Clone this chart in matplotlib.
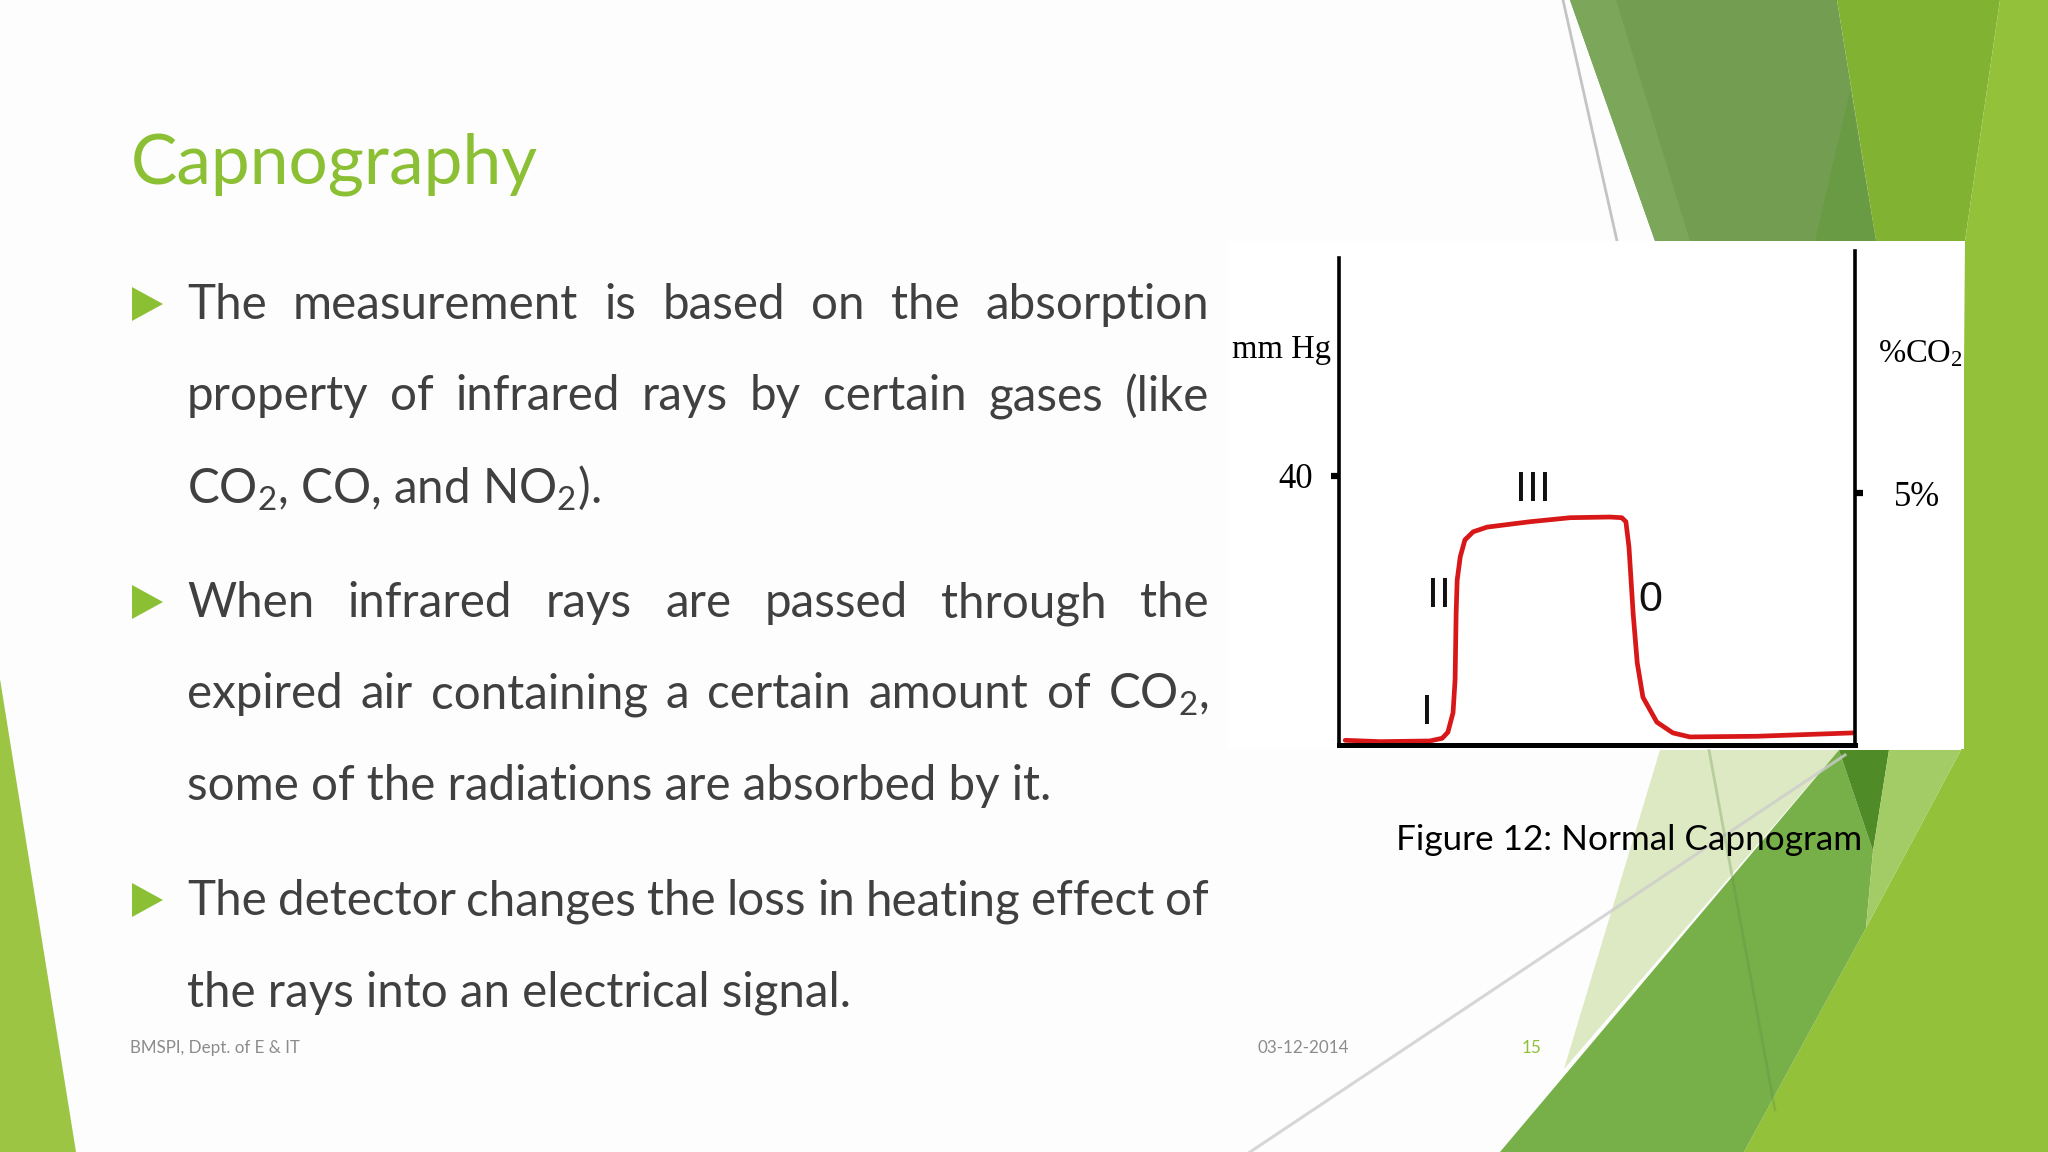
import matplotlib
matplotlib.use("Agg")
import matplotlib.pyplot as plt
from matplotlib.patches import Polygon, Rectangle

W, H = 2048, 1152

# ─── capnogram trace ─────────────────────────────────────────────────────────
# time as % of the plotted window, CO2 in mm Hg
time_pct = [1.2, 8.0, 17.6, 20.0, 21.1, 22.1, 22.5, 22.7, 22.9, 23.5, 24.4,
            26.0, 28.7, 37.0, 44.8, 52.5, 54.8, 55.6, 56.2, 57.0, 57.8, 58.9,
            61.6, 64.7, 68.0, 81.0, 99.6]
co2_mmhg = [0.7, 0.5, 0.6, 1.0, 1.9, 4.8, 9.7, 19.6, 24.5, 28.0, 30.5,
            31.7, 32.4, 33.2, 33.8, 33.9, 33.8, 33.2, 29.4, 19.6, 12.2, 7.1,
            3.4, 1.8, 1.2, 1.3, 1.8]

phase_names = ["I", "II", "III", "0"]
phase_time = [17.1, 19.4, 37.6, 60.3]
phase_level = [4.8, 22.2, 37.9, 21.6]

mmhg_ticks = [40]
mmhg_labels = ["40"]
pct_ticks = [5]
pct_labels = ["5%"]

# ─── slide text ──────────────────────────────────────────────────────────────
title = "Capnography"
bullets = [
    ["The measurement is based on the absorption",
     "property of infrared rays by certain gases (like",
     r"CO$\mathregular{_2}$, CO, and NO$\mathregular{_2}$)."],
    ["When infrared rays are passed through the",
     r"expired air containing a certain amount of CO$\mathregular{_2}$,",
     "some of the radiations are absorbed by it."],
    ["The detector changes the loss in heating effect of",
     "the rays into an electrical signal."],
]
caption = "Figure 12: Normal Capnogram"
footer_left = "BMSPI, Dept. of E & IT"
footer_date = "03-12-2014"
page_no = "15"

GREEN = "#8cc034"
TEXT = "#404040"
BODY_FONT = "Lato"
FIG_FONT = "Liberation Serif"

fig = plt.figure(figsize=(20.48, 11.52), dpi=100)
fig.patch.set_facecolor("#fdfdfd")
bg = fig.add_axes([0, 0, 1, 1])
bg.set_xlim(0, W)
bg.set_ylim(H, 0)
bg.axis("off")
r = fig.canvas.get_renderer()

# ─── decorative slide shapes ─────────────────────────────────────────────────
shapes = [
    ([(0, 679), (76, 1152), (0, 1152)], "#9cc543"),
    ([(1570, 0), (1837, 0), (1876, 241), (1655, 241)], "#739d51"),
    ([(1570, 0), (1616, 0), (1690, 241), (1655, 241)], "#7ca75b"),
    ([(1850, 91), (1876, 241), (1815, 241)], "#689b43"),
    ([(1837, 0), (2000, 0), (1965, 241), (1876, 241)], "#82b232"),
    ([(2000, 0), (2048, 0), (2048, 1152), (1744, 1152), (1866, 928),
      (1961, 750), (1965, 241)], "#93c13a"),
    ([(1660, 750), (1839, 750), (1564, 1069)], "#dde9c2"),
    ([(1839, 750), (1873, 851), (1866, 928), (1744, 1152), (1500, 1152)],
     "#77af48"),
    ([(1839, 750), (1889, 750), (1873, 851)], "#4f8b27"),
    ([(1889, 750), (1961, 750), (1866, 928), (1873, 851)], "#a3cc66"),
]
for pts, col in shapes:
    bg.add_patch(Polygon(pts, closed=True, facecolor=col, edgecolor="none",
                         zorder=1))

bg.plot([1563, 1617], [0, 241], color="#c4c4c4", lw=2.0, zorder=2)
bg.plot([1250, 1845], [1152, 755], color="#cdcdcd", lw=2.2, alpha=0.8, zorder=2)
bg.plot([1709, 1775], [750, 1110], color="#5f8f45", lw=2.0, alpha=0.3, zorder=2)

# white picture area behind the chart
bg.add_patch(Rectangle((1228, 241), 736, 508, facecolor="white",
                       edgecolor="none", zorder=3))


def fit_size(s, width, **kw):
    t = bg.text(0, 0, s, fontsize=20, **kw)
    w = t.get_window_extent(r).width
    t.remove()
    return 20 * width / w


# ─── title ───────────────────────────────────────────────────────────────────
ts = fit_size(title, 408, family=BODY_FONT)
bg.text(131, 183, title, fontsize=ts, family=BODY_FONT, color=GREEN,
        va="baseline", ha="left", zorder=4)

# ─── bullets ─────────────────────────────────────────────────────────────────
X0, X1 = 187, 1209
body_size = fit_size(bullets[1][2], 866, family=BODY_FONT)
line_gap = 91.5
para_starts = [319, 617, 915]


def draw_line(y, line, justify):
    kw = dict(fontsize=body_size, family=BODY_FONT, color=TEXT,
              va="baseline", ha="left", zorder=4)
    if not justify:
        bg.text(X0, y, line, **kw)
        return
    words = line.split(" ")
    txts = [bg.text(0, y, w, **kw) for w in words]
    widths = [t.get_window_extent(r).width for t in txts]
    gap = (X1 - X0 - sum(widths)) / (len(words) - 1)
    x = X0
    for t, w in zip(txts, widths):
        t.set_x(x)
        x += w + gap


for start, lines in zip(para_starts, bullets):
    bg.add_patch(Polygon([(132, start - 32), (132, start + 2), (163, start - 15)],
                         closed=True, facecolor=GREEN, edgecolor="none", zorder=4))
    for i, line in enumerate(lines):
        draw_line(start + i * line_gap, line, justify=(i < len(lines) - 1))

# ─── caption and footer ──────────────────────────────────────────────────────
cs = fit_size(caption, 466, family=BODY_FONT)
bg.text(1396, 850, caption, fontsize=cs, family=BODY_FONT, color="black",
        va="baseline", ha="left", zorder=4)

fs = fit_size(footer_left, 171, family=BODY_FONT)
bg.text(130, 1053, footer_left, fontsize=fs, family=BODY_FONT, color="#8c8c8c",
        va="baseline", ha="left", zorder=4)
bg.text(1258, 1053, footer_date, fontsize=fs, family=BODY_FONT, color="#8c8c8c",
        va="baseline", ha="left", zorder=4)
bg.text(1532, 1053, page_no, fontsize=fs, family=BODY_FONT, color=GREEN,
        va="baseline", ha="center", zorder=4)

# ─── capnogram ───────────────────────────────────────────────────────────────
MMHG_PX = 6.725          # pixels per mm Hg on the slide picture
ax = fig.add_axes([1339 / W, 1 - 745 / H, 516 / W, 487 / H])
ax.patch.set_alpha(0)
ax.plot(time_pct, co2_mmhg, color="#d81818", lw=3.4, solid_capstyle="round",
        solid_joinstyle="round")
ax.set_xlim(0, 100)
ax.set_ylim(0, 487 / MMHG_PX)
ax.set_xticks([])
for side in ["top", "right"]:
    ax.spines[side].set_visible(False)
ax.spines["left"].set_linewidth(2.6)
ax.spines["bottom"].set_linewidth(3.6)
ax.set_yticks(mmhg_ticks)
ax.set_yticklabels(mmhg_labels, family=FIG_FONT)
ax.tick_params(axis="y", direction="out", length=6, width=4.5, pad=13,
               labelsize=25)
ax.set_ylabel("mm Hg", rotation=0, family=FIG_FONT, fontsize=23.5,
              ha="center", va="center")
ax.yaxis.set_label_coords(-0.112, 0.811)

for name, tx, ty in zip(phase_names, phase_time, phase_level):
    ax.text(tx, ty, name, ha="center", va="center", family="Liberation Sans",
            fontsize=31, color="#111111")

# right-hand %CO2 scale (its axis line runs a little higher than the left one)
ax2 = fig.add_axes([1339 / W, 1 - 745 / H, 516 / W, 494 / H])
ax2.patch.set_alpha(0)
ax2.set_xlim(0, 100)
ax2.set_ylim(0, 494 / MMHG_PX * 5 / 37.4)
ax2.set_xticks([])
ax2.yaxis.tick_right()
ax2.yaxis.set_label_position("right")
for side in ["top", "left", "bottom"]:
    ax2.spines[side].set_visible(False)
ax2.spines["right"].set_linewidth(2.6)
ax2.set_yticks(pct_ticks)
ax2.set_yticklabels(pct_labels, family=FIG_FONT)
ax2.tick_params(axis="y", direction="out", length=6, width=4.5, pad=22,
                labelsize=25)
ax2.set_ylabel(r"%CO$\mathregular{_2}$", rotation=0, family=FIG_FONT,
               fontsize=23.5, ha="center", va="center")
ax2.yaxis.set_label_coords(1.127, 0.791)

fig.savefig("out.png", dpi=100, facecolor=fig.get_facecolor())
